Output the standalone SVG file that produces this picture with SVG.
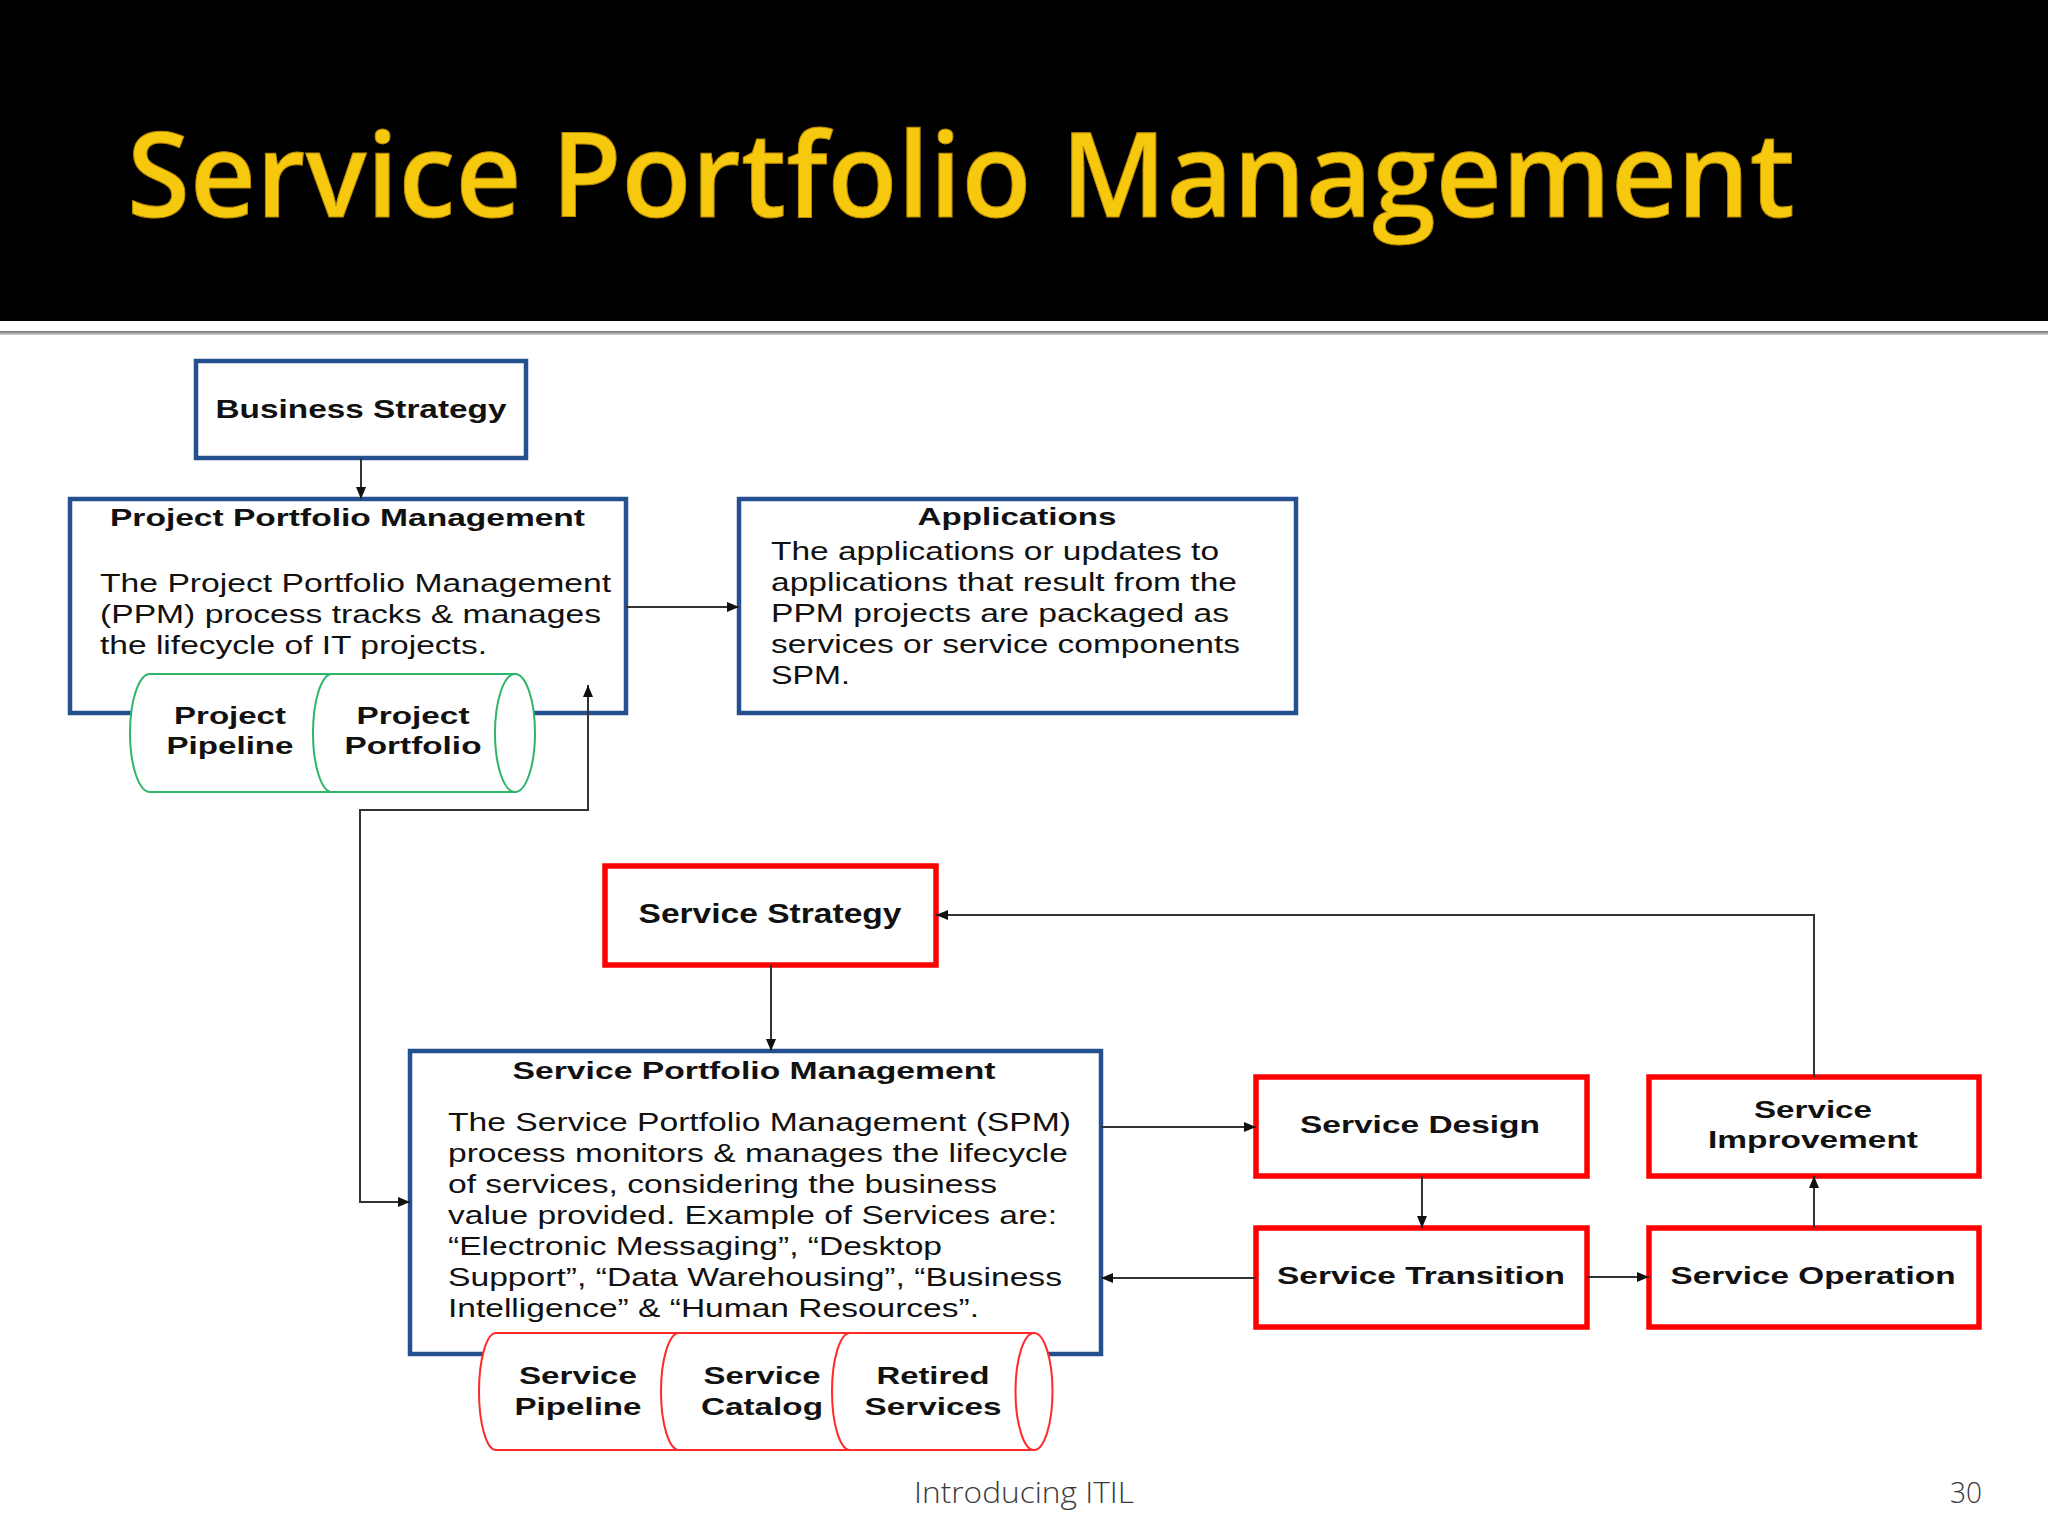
<svg xmlns="http://www.w3.org/2000/svg" width="2048" height="1536" viewBox="0 0 2048 1536">
<defs>
<linearGradient id="sep" x1="0" y1="0" x2="0" y2="1">
<stop offset="0" stop-color="#6e6e6e"/>
<stop offset="1" stop-color="#d4d4d4"/>
</linearGradient>
<marker id="ah" viewBox="0 0 12 10" refX="12" refY="5" markerWidth="12" markerHeight="10" markerUnits="userSpaceOnUse" orient="auto-start-reverse">
<path d="M0,0 L12,5 L0,10 z" fill="#111"/>
</marker>
<style>
.blue{fill:#fff;stroke:#24508F;stroke-width:4.5}
.red{fill:#fff;stroke:#FF0000;stroke-width:5.5}
.cylg{fill:#fff;stroke:#2DB56A;stroke-width:2}
.cylr{fill:#fff;stroke:#FF2A2A;stroke-width:2}
.t{font-family:"Liberation Sans",Arial,sans-serif;fill:#111}
.b{font-weight:bold}
.c{text-anchor:middle}
.body{font-size:25px}
.lbl{font-size:24px;font-weight:bold}
.con{fill:none;stroke:#333;stroke-width:2}
</style>
</defs>
<rect x="0" y="0" width="2048" height="1536" fill="#fff"/>
<rect x="0" y="0" width="2048" height="321" fill="#000"/>
<rect x="0" y="331" width="2048" height="4" fill="url(#sep)"/>
<text x="127" y="217" font-family="'Open Sans',Lato,sans-serif" font-weight="600" font-size="118" fill="#F6C90E" stroke="#B88A00" stroke-width="1" textLength="1668" lengthAdjust="spacingAndGlyphs">Service Portfolio Management</text>

<g id="business-strategy">
<rect class="blue" x="196" y="361" width="330" height="97"/>
<text class="t b c" x="361" y="418" font-size="26" textLength="291" lengthAdjust="spacingAndGlyphs">Business Strategy</text>
</g>

<g id="ppm">
<rect class="blue" x="70" y="499" width="556" height="214"/>
<text class="t b" x="110" y="526" font-size="23" textLength="475" lengthAdjust="spacingAndGlyphs">Project Portfolio Management</text>
<text class="t body" x="100" y="592" textLength="511" lengthAdjust="spacingAndGlyphs">The Project Portfolio Management</text>
<text class="t body" x="100" y="623" textLength="501" lengthAdjust="spacingAndGlyphs">(PPM) process tracks &amp; manages</text>
<text class="t body" x="100" y="654" textLength="387" lengthAdjust="spacingAndGlyphs">the lifecycle of IT projects.</text>
</g>

<g id="project-cylinder">
<path class="cylg" d="M515,674 L150,674 A20,59 0 0 0 150,792 L515,792 Z"/>
<ellipse class="cylg" cx="515" cy="733" rx="20" ry="59"/>
<path class="cylg" d="M332,674 A19,59 0 0 0 332,792" fill="none"/>
<text class="t lbl c" x="230" y="724" textLength="112" lengthAdjust="spacingAndGlyphs">Project</text>
<text class="t lbl c" x="230" y="754" textLength="127" lengthAdjust="spacingAndGlyphs">Pipeline</text>
<text class="t lbl c" x="413" y="724" textLength="113" lengthAdjust="spacingAndGlyphs">Project</text>
<text class="t lbl c" x="413" y="754" textLength="137" lengthAdjust="spacingAndGlyphs">Portfolio</text>
</g>

<g id="applications">
<rect class="blue" x="739" y="499" width="557" height="214"/>
<text class="t b c" x="1017" y="525" font-size="24" textLength="199" lengthAdjust="spacingAndGlyphs">Applications</text>
<text class="t body" x="771" y="560" textLength="448" lengthAdjust="spacingAndGlyphs">The applications or updates to</text>
<text class="t body" x="771" y="591" textLength="466" lengthAdjust="spacingAndGlyphs">applications that result from the</text>
<text class="t body" x="771" y="622" textLength="458" lengthAdjust="spacingAndGlyphs">PPM projects are packaged as</text>
<text class="t body" x="771" y="653" textLength="469" lengthAdjust="spacingAndGlyphs">services or service components</text>
<text class="t body" x="771" y="684" textLength="79" lengthAdjust="spacingAndGlyphs">SPM.</text>
</g>

<g id="service-strategy">
<rect class="red" x="605" y="866" width="331" height="99"/>
<text class="t b c" x="770" y="923" font-size="27" textLength="263" lengthAdjust="spacingAndGlyphs">Service Strategy</text>
</g>

<g id="spm">
<rect class="blue" x="410" y="1051" width="691" height="303"/>
<text class="t b c" x="754" y="1079" font-size="24" textLength="483" lengthAdjust="spacingAndGlyphs">Service Portfolio Management</text>
<text class="t body" x="448" y="1131" textLength="623" lengthAdjust="spacingAndGlyphs">The Service Portfolio Management (SPM)</text>
<text class="t body" x="448" y="1162" textLength="620" lengthAdjust="spacingAndGlyphs">process monitors &amp; manages the lifecycle</text>
<text class="t body" x="448" y="1193" textLength="549" lengthAdjust="spacingAndGlyphs">of services, considering the business</text>
<text class="t body" x="448" y="1224" textLength="609" lengthAdjust="spacingAndGlyphs">value provided. Example of Services are:</text>
<text class="t body" x="448" y="1255" textLength="494" lengthAdjust="spacingAndGlyphs">“Electronic Messaging”, “Desktop</text>
<text class="t body" x="448" y="1286" textLength="614" lengthAdjust="spacingAndGlyphs">Support”, “Data Warehousing”, “Business</text>
<text class="t body" x="448" y="1317" textLength="531" lengthAdjust="spacingAndGlyphs">Intelligence” &amp; “Human Resources”.</text>
</g>

<g id="service-cylinder">
<path class="cylr" d="M1034,1333 L496,1333 A17,58.5 0 0 0 496,1450 L1034,1450 Z"/>
<ellipse class="cylr" cx="1034" cy="1391.5" rx="18.5" ry="58.5"/>
<path class="cylr" d="M679,1333 A18,58.5 0 0 0 679,1450" fill="none"/>
<path class="cylr" d="M850,1333 A18,58.5 0 0 0 850,1450" fill="none"/>
<text class="t lbl c" x="578" y="1384" textLength="118" lengthAdjust="spacingAndGlyphs">Service</text>
<text class="t lbl c" x="578" y="1415" textLength="127" lengthAdjust="spacingAndGlyphs">Pipeline</text>
<text class="t lbl c" x="762" y="1384" textLength="117" lengthAdjust="spacingAndGlyphs">Service</text>
<text class="t lbl c" x="762" y="1415" textLength="122" lengthAdjust="spacingAndGlyphs">Catalog</text>
<text class="t lbl c" x="933" y="1384" textLength="113" lengthAdjust="spacingAndGlyphs">Retired</text>
<text class="t lbl c" x="933" y="1415" textLength="137" lengthAdjust="spacingAndGlyphs">Services</text>
</g>

<g id="service-design">
<rect class="red" x="1256" y="1077" width="331" height="99"/>
<text class="t lbl c" x="1420" y="1133" textLength="240" lengthAdjust="spacingAndGlyphs">Service Design</text>
</g>

<g id="service-improvement">
<rect class="red" x="1649" y="1077" width="330" height="99"/>
<text class="t lbl c" x="1813" y="1118" textLength="118" lengthAdjust="spacingAndGlyphs">Service</text>
<text class="t lbl c" x="1813" y="1148" textLength="210" lengthAdjust="spacingAndGlyphs">Improvement</text>
</g>

<g id="service-transition">
<rect class="red" x="1256" y="1228" width="331" height="99"/>
<text class="t lbl c" x="1421" y="1284" textLength="288" lengthAdjust="spacingAndGlyphs">Service Transition</text>
</g>

<g id="service-operation">
<rect class="red" x="1649" y="1228" width="330" height="99"/>
<text class="t lbl c" x="1813" y="1284" textLength="285" lengthAdjust="spacingAndGlyphs">Service Operation</text>
</g>

<g id="connectors">
<path class="con" d="M361,458 L361,499" marker-end="url(#ah)"/>
<path class="con" d="M626,607 L739,607" marker-end="url(#ah)"/>
<path class="con" d="M588,685 L588,810 L360,810 L360,1202 L410,1202" marker-start="url(#ah)" marker-end="url(#ah)"/>
<path class="con" d="M771,965 L771,1051" marker-end="url(#ah)"/>
<path class="con" d="M1101,1127 L1256,1127" marker-end="url(#ah)"/>
<path class="con" d="M1422,1176 L1422,1228" marker-end="url(#ah)"/>
<path class="con" d="M1587,1277 L1649,1277" marker-end="url(#ah)"/>
<path class="con" d="M1814,1228 L1814,1176" marker-end="url(#ah)"/>
<path class="con" d="M1256,1278 L1101,1278" marker-end="url(#ah)"/>
<path class="con" d="M1814,1077 L1814,915 L936,915" marker-end="url(#ah)"/>
</g>

<text x="914" y="1503" font-family="'Open Sans',Lato,sans-serif" font-weight="300" font-size="30" fill="#3a3a3a" textLength="220" lengthAdjust="spacingAndGlyphs">Introducing ITIL</text>
<text x="1950" y="1503" font-family="'Open Sans',Lato,sans-serif" font-weight="300" font-size="30" fill="#3a3a3a" textLength="32" lengthAdjust="spacingAndGlyphs">30</text>
</svg>
